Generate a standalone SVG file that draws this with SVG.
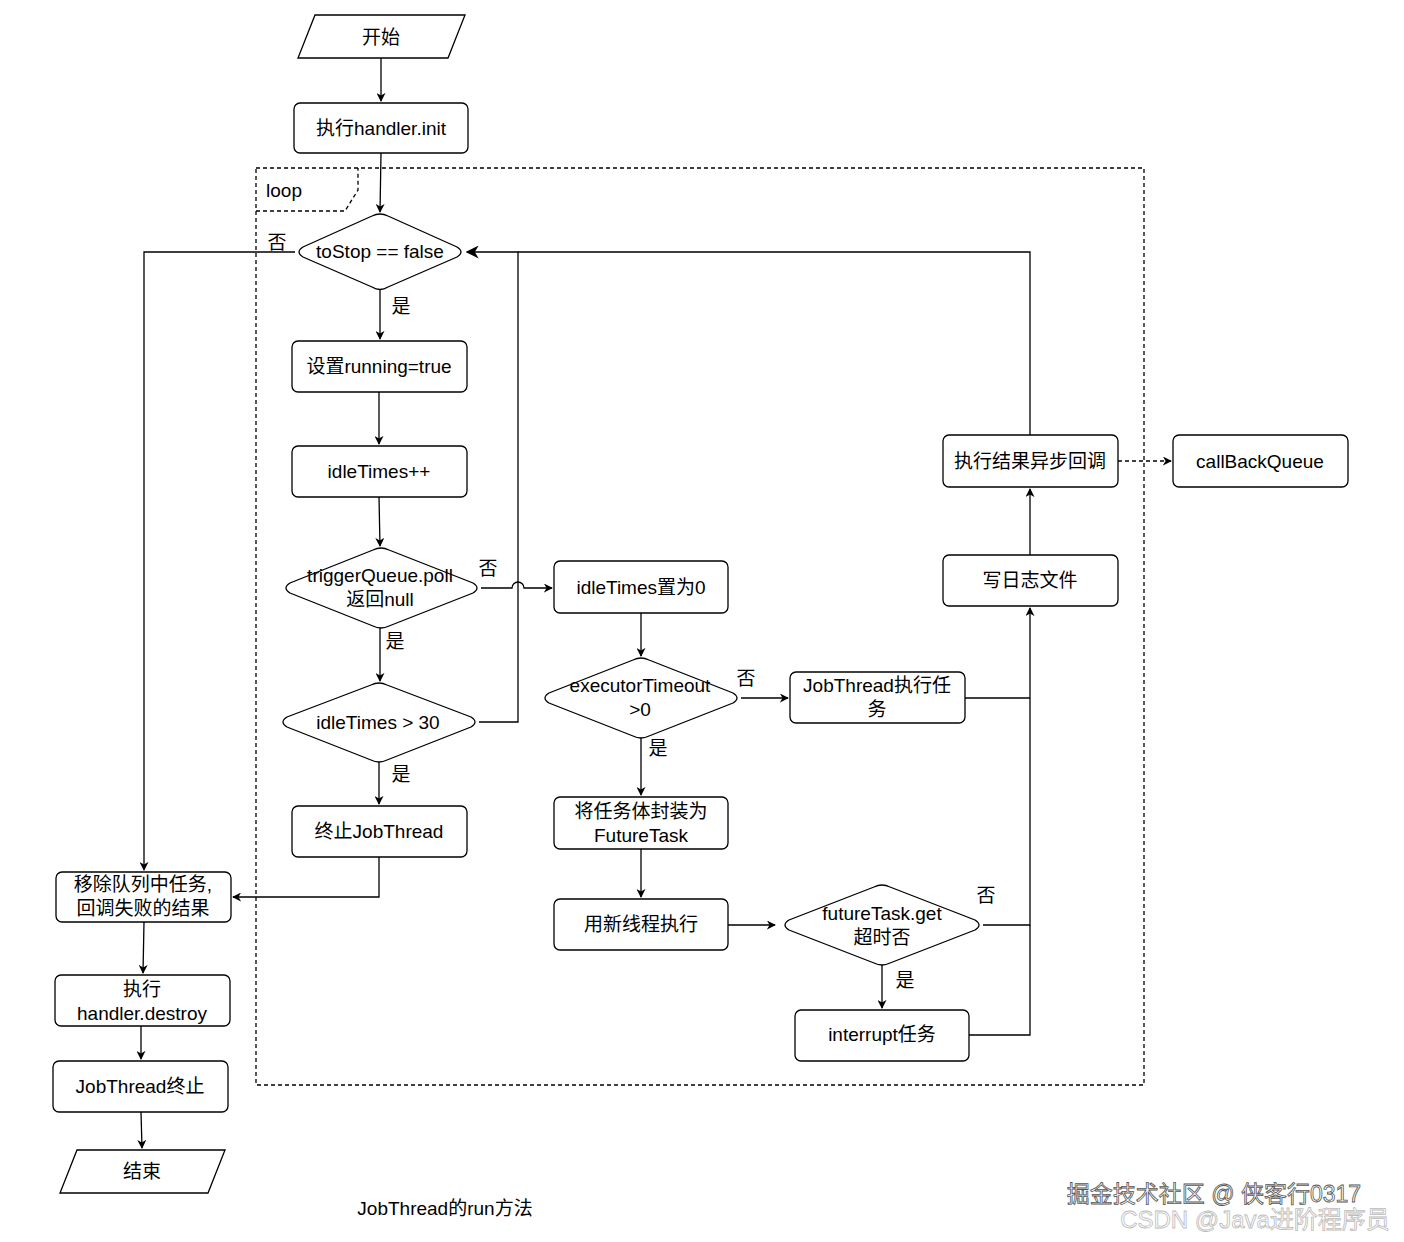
<svg xmlns="http://www.w3.org/2000/svg" width="1404" height="1242" viewBox="0 0 1404 1242">
<defs>
<marker id="a" viewBox="0 0 10 10" refX="9" refY="5" markerWidth="9" markerHeight="9" orient="auto" markerUnits="userSpaceOnUse"><path d="M0,0 L10,5 L0,10 L3,5 Z" fill="#000"/></marker>
<marker id="b" viewBox="0 0 10 10" refX="9" refY="5" markerWidth="13" markerHeight="13" orient="auto" markerUnits="userSpaceOnUse"><path d="M0,0 L10,5 L0,10 L3,5 Z" fill="#000"/></marker>
</defs>
<style>
text{font-family:"Liberation Sans","Noto Sans CJK SC",sans-serif;font-size:19px;fill:#000;text-anchor:middle;dominant-baseline:central}
.n rect,.n path{fill:#fff;stroke:#000;stroke-width:1.3}
.c path{fill:none;stroke:#000;stroke-width:1.3}
</style>
<rect width="1404" height="1242" fill="#fff"/>
<g id="loop" fill="none" stroke="#000" stroke-width="1.3" stroke-dasharray="4,3">
<rect x="256" y="168" width="888" height="917"/>
<path d="M256,211 H345 L358,190 V168"/>
</g>
<text x="284" y="190">loop</text>
<g class="c">
<path d="M381,58 V101" marker-end="url(#a)"/>
<path d="M381,153 L380,212" marker-end="url(#a)"/>
<path d="M295,252 H144 V870" marker-end="url(#a)"/>
<path d="M380,290 V339" marker-end="url(#a)"/>
<path d="M379,392 V444" marker-end="url(#a)"/>
<path d="M379,497 L380,546" marker-end="url(#a)"/>
<path d="M481,588 H512 A6,6 0 0 1 524,588 H552" marker-end="url(#a)"/>
<path d="M380,628 V681" marker-end="url(#a)"/>
<path d="M479,722 H518 V252 H467" marker-end="url(#b)"/>
<path d="M379,762 V804" marker-end="url(#a)"/>
<path d="M379,857 V897 H233" marker-end="url(#a)"/>
<path d="M144,922 L143,973" marker-end="url(#a)"/>
<path d="M141,1026 V1059" marker-end="url(#a)"/>
<path d="M141,1112 L142,1148" marker-end="url(#a)"/>
<path d="M641,613 V656" marker-end="url(#a)"/>
<path d="M741,698 H788" marker-end="url(#a)"/>
<path d="M641,738 V795" marker-end="url(#a)"/>
<path d="M641,849 V897" marker-end="url(#a)"/>
<path d="M728,925 H775" marker-end="url(#a)"/>
<path d="M983,925 H1030 V608" marker-end="url(#a)"/>
<path d="M882,965 V1008" marker-end="url(#a)"/>
<path d="M969,1035 H1030 V925"/>
<path d="M965,698 H1030"/>
<path d="M1030,555 V489" marker-end="url(#a)"/>
<path d="M1030,435 V252 H518"/>
<path d="M1118,461 H1171" stroke-dasharray="4,3" marker-end="url(#a)"/>
</g>
<g id="labels">
<text x="277" y="242">否</text>
<text x="401" y="306">是</text>
<text x="488" y="568">否</text>
<text x="395" y="641">是</text>
<text x="401" y="774">是</text>
<text x="746" y="678">否</text>
<text x="658" y="748">是</text>
<text x="986" y="895">否</text>
<text x="905" y="980">是</text>
</g>
<g id="start" class="n"><path d="M315,15 H465 L448,58 H298 Z"/><text x="381" y="37">开始</text></g>
<g id="init" class="n"><rect x="294" y="103" width="174" height="50" rx="6"/><text x="381" y="128">执行handler.init</text></g>
<g id="tostop" class="n"><path d="M372,216 Q380,212 388,216 L457,247 Q465,252 457,257 L388,287 Q380,292 372,287 L303,257 Q295,252 303,247 Z"/><text x="380" y="251">toStop == false</text></g>
<g id="running" class="n"><rect x="292" y="341" width="175" height="51" rx="6"/><text x="379" y="366">设置running=true</text></g>
<g id="idle" class="n"><rect x="292" y="446" width="175" height="51" rx="6"/><text x="379" y="471">idleTimes++</text></g>
<g id="poll" class="n"><path d="M373,550 Q381,546 389,550 L473,583 Q481,588 473,593 L389,626 Q381,630 373,626 L290,593 Q282,588 290,583 Z"/><text x="380" y="575">triggerQueue.poll</text><text x="380" y="599">返回null</text></g>
<g id="idle30" class="n"><path d="M371,685 Q379,681 387,685 L471,717 Q479,722 471,727 L387,760 Q379,764 371,760 L287,727 Q279,722 287,717 Z"/><text x="378" y="722">idleTimes &gt; 30</text></g>
<g id="stop" class="n"><rect x="292" y="806" width="175" height="51" rx="6"/><text x="379" y="831">终止JobThread</text></g>
<g id="remove" class="n"><rect x="56" y="872" width="175" height="50" rx="6"/><text x="143" y="884">移除队列中任务,</text><text x="143" y="908">回调失败的结果</text></g>
<g id="destroy" class="n"><rect x="55" y="975" width="175" height="51" rx="6"/><text x="142" y="989">执行</text><text x="142" y="1013">handler.destroy</text></g>
<g id="jtend" class="n"><rect x="53" y="1061" width="175" height="51" rx="6"/><text x="140" y="1086">JobThread终止</text></g>
<g id="end" class="n"><path d="M77,1150 H225 L208,1193 H60 Z"/><text x="142" y="1171">结束</text></g>
<g id="zero" class="n"><rect x="554" y="561" width="174" height="52" rx="6"/><text x="641" y="587">idleTimes置为0</text></g>
<g id="exec" class="n"><path d="M633,660 Q641,656 649,660 L733,693 Q741,698 733,703 L649,736 Q641,740 633,736 L549,703 Q541,698 549,693 Z"/><text x="640" y="685">executorTimeout</text><text x="640" y="709">&gt;0</text></g>
<g id="jtexec" class="n"><rect x="790" y="672" width="175" height="51" rx="6"/><text x="877" y="685">JobThread执行任</text><text x="877" y="709">务</text></g>
<g id="wrap" class="n"><rect x="554" y="797" width="174" height="52" rx="6"/><text x="641" y="811">将任务体封装为</text><text x="641" y="835">FutureTask</text></g>
<g id="newthread" class="n"><rect x="554" y="899" width="174" height="51" rx="6"/><text x="641" y="924">用新线程执行</text></g>
<g id="fget" class="n"><path d="M874,887 Q882,883 890,887 L975,920 Q983,925 975,930 L890,963 Q882,967 874,963 L789,930 Q781,925 789,920 Z"/><text x="882" y="913">futureTask.get</text><text x="882" y="937">超时否</text></g>
<g id="interrupt" class="n"><rect x="795" y="1010" width="174" height="51" rx="6"/><text x="882" y="1034">interrupt任务</text></g>
<g id="log" class="n"><rect x="943" y="555" width="175" height="51" rx="6"/><text x="1030" y="580">写日志文件</text></g>
<g id="cb" class="n"><rect x="943" y="435" width="175" height="52" rx="6"/><text x="1030" y="461">执行结果异步回调</text></g>
<g id="cbq" class="n"><rect x="1173" y="435" width="175" height="52" rx="6"/><text x="1260" y="461">callBackQueue</text></g>
<text x="445" y="1208">JobThread的run方法</text>
<text x="1214" y="1194" style="font-size:23px;fill:#fff;stroke:#555;stroke-width:0.8">掘金技术社区 @ 侠客行0317</text>
<text x="1255" y="1219" style="font-size:24px;fill:#fff;stroke:#bbb;stroke-width:0.8">CSDN @Java进阶程序员</text>
</svg>
